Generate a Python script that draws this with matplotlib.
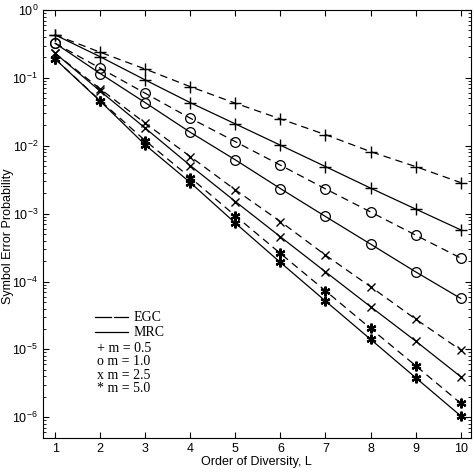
import matplotlib
matplotlib.use("Agg")
import matplotlib.pyplot as plt
import numpy as np

# diversity order
L = [1, 2, 3, 4, 5, 6, 7, 8, 9, 10]

# symbol error probability
egc_m05 = [0.43, 0.239, 0.135, 0.0743, 0.0424, 0.0249, 0.0146, 0.0082, 0.00494, 0.00287]
mrc_m05 = [0.43, 0.205, 0.0933, 0.0432, 0.021, 0.0102, 0.00494, 0.00238, 0.00117, 0.000578]
egc_m10 = [0.324, 0.139, 0.0594, 0.0255, 0.0115, 0.00518, 0.00232, 0.00106, 0.000483, 0.000222]
mrc_m10 = [0.324, 0.116, 0.0432, 0.0158, 0.0062, 0.00234, 0.000908, 0.000356, 0.000139, 5.64e-5]
egc_m25 = [0.231, 0.0688, 0.0215, 0.00693, 0.00224, 0.000766, 0.000245, 8.4e-5, 2.8e-5, 9.8e-6]
mrc_m25 = [0.231, 0.064, 0.0182, 0.00511, 0.00151, 0.000456, 0.000139, 4.26e-5, 1.33e-5, 3.97e-6]
egc_m50 = [0.19, 0.0463, 0.0119, 0.0034, 0.00093, 0.000259, 7.3e-5, 2.04e-5, 5.77e-6, 1.61e-6]
mrc_m50 = [0.19, 0.0455, 0.0103, 0.00287, 0.000726, 0.000191, 5.16e-5, 1.41e-5, 3.84e-6, 1.05e-6]

legend_rows = ["+ m = 0.5", "o m = 1.0", "x m = 2.5", "* m = 5.0"]

plt.rcParams['font.family'] = ['Liberation Sans', 'DejaVu Sans']
plt.rcParams['mathtext.fontset'] = 'custom'
plt.rcParams['mathtext.rm'] = 'Liberation Sans'

fig = plt.figure(figsize=(4.74, 4.72), dpi=100)
ax = fig.add_axes([0.0907, 0.0727, 0.902, 0.906])

dash = (0, (6, 4))
asterisk = (6, 2, 0)
series = [
    (egc_m05, mrc_m05, '+', 8, 1.0),
    (egc_m10, mrc_m10, 'o', 7, 0.9),
    (egc_m25, mrc_m25, 'x', 6, 1.0),
    (egc_m50, mrc_m50, asterisk, 7, 1.6),
]
for egc, mrc, mk, ms, mew in series:
    ax.plot(L, egc, color='black', lw=0.9, linestyle=dash, marker=mk,
            ms=ms, mew=mew, mfc='none', mec='black')
    ax.plot(L, mrc, color='black', lw=0.9, linestyle='-', marker=mk,
            ms=ms, mew=mew, mfc='none', mec='black')

ax.set_yscale('log')
ax.set_xlim(0.73, 10.22)
ax.set_ylim(5e-7, 1)
ax.set_xticks(L)
ax.tick_params(which='both', direction='in', top=True, right=True)
ax.tick_params(which='major', length=4, labelsize=9)
ax.tick_params(which='minor', length=2)

# axis titles placed by hand so they stay inside the small figure
fig.text(0.5 * (0.0907 + 0.9927), (472 - 462) / 472, "Order of Diversity, L",
         fontsize=9, ha='center', va='center')
fig.text(8 / 474, 0.5, "Symbol Error Probability", fontsize=9,
         rotation=90, ha='center', va='center')

# hand made legend, no frame
ax.plot([0.122, 0.158], [0.282, 0.282], transform=ax.transAxes, color='black', lw=0.9)
ax.plot([0.165, 0.199], [0.282, 0.282], transform=ax.transAxes, color='black', lw=0.9)
ax.plot([0.122, 0.199], [0.247, 0.247], transform=ax.transAxes, color='black', lw=0.9)
ax.text(0.212, 0.282, "EGC", transform=ax.transAxes, family='Liberation Serif',
        fontsize=10, va='center')
ax.text(0.212, 0.247, "MRC", transform=ax.transAxes, family='Liberation Serif',
        fontsize=10, va='center')
for i, row in enumerate(legend_rows):
    ax.text(0.126, 0.208 - i * 0.031, row, transform=ax.transAxes,
            family='Liberation Serif', fontsize=10, va='center')

fig.savefig('out.png', dpi=100)
